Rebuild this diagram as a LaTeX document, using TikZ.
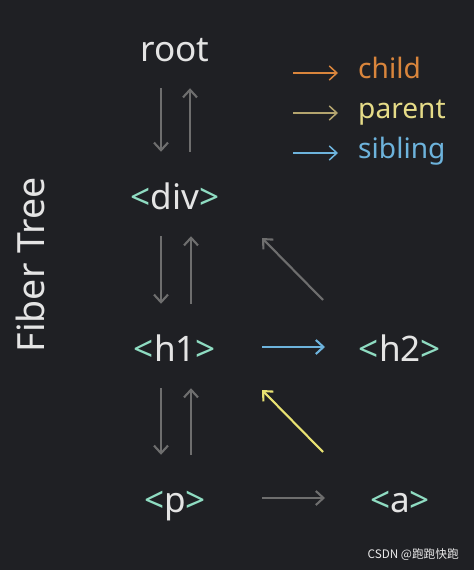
\documentclass[tikz,border=0pt]{standalone}
\usepackage{fontspec}
\setmainfont{Noto Sans}
\newfontfamily\cjk{Noto Sans CJK SC}
\usetikzlibrary{arrows.meta}

\definecolor{bgc}{HTML}{1F2024}
\definecolor{txtc}{HTML}{E4E4E4}
\definecolor{bracketc}{HTML}{8FDCC2}
\definecolor{greyc}{HTML}{6E6E6E}
\definecolor{childc}{HTML}{D9853C}
\definecolor{parentc}{HTML}{E6DC88}
\definecolor{parentarr}{HTML}{B3A46E}
\definecolor{siblingc}{HTML}{6DB3DC}
\definecolor{yellowc}{HTML}{E8E272}

\newcommand{\htmltag}[1]{{\color{bracketc}<}#1{\color{bracketc}>}}

\tikzset{
  fiber/.style={text=txtc, font=\fontsize{30}{34}\selectfont, inner sep=0pt, text height=0.75cm, text depth=0.25cm, minimum height=1.2cm},
  legend/.style={anchor=west, font=\fontsize{24}{28}\selectfont, inner sep=0pt, text height=0.5cm, text depth=0.15cm},
  link/.style={line width=1.8pt, -{Straight Barb[length=6.5pt,width=12pt]}},
  downlink/.style={link, greyc, shorten <=0.45cm, shorten >=0.87cm},
  uplink/.style={link, greyc, shorten <=0.87cm, shorten >=0.45cm},
}

\begin{document}
\begin{tikzpicture}[x=0.03cm,y=-0.03cm]
\fill[bgc] (0,0) rectangle (474,570);
\useasboundingbox (0,0) rectangle (474,570);
% tree
\node[fiber] (root) at (175,53) {root};
\node[fiber] (div) at (175,201) {\htmltag{div}};
\node[fiber] (h1) at (175,353) {\htmltag{h1}};
\node[fiber] (h2) at (400,353) {\htmltag{h2}};
\node[fiber] (p) at (175,504) {\htmltag{p}};
\node[fiber] (a) at (400,504) {\htmltag{a}};
\node[text=txtc, rotate=90, font=\fontsize{32}{36}\selectfont] (title) at (30,265) {Fiber Tree};
% child / return
\draw[downlink] ([xshift=-14*0.03cm]root.south) -- ([xshift=-14*0.03cm]div.north);
\draw[uplink] ([xshift=15*0.03cm]div.north) -- ([xshift=15*0.03cm]root.south);
\draw[downlink] ([xshift=-14*0.03cm]div.south) -- ([xshift=-14*0.03cm]h1.north);
\draw[uplink] ([xshift=16*0.03cm]h1.north) -- ([xshift=16*0.03cm]div.south);
\draw[downlink] ([xshift=-14*0.03cm]h1.south) -- ([xshift=-14*0.03cm]p.north);
\draw[uplink] ([xshift=16*0.03cm]p.north) -- ([xshift=16*0.03cm]h1.south);
% sibling
\draw[link, siblingc] ([xshift=87*0.03cm,yshift=6*0.03cm]h1.center) -- ([xshift=-75*0.03cm,yshift=6*0.03cm]h2.center);
\draw[link, greyc] ([xshift=87*0.03cm,yshift=6*0.03cm]p.center) -- ([xshift=-75*0.03cm,yshift=6*0.03cm]a.center);
% return from sibling
\draw[link, greyc] ([shift={(-77,-53)}]h2.center) -- ([shift={(87,37)}]div.center);
\draw[link, yellowc] ([shift={(-77,-52)}]a.center) -- ([shift={(87,37)}]h1.center);
% legend
\node[legend, text=childc] (lchild) at (358,73) {child};
\node[legend, text=parentc] (lparent) at (358,113) {parent};
\node[legend, text=siblingc] (lsibling) at (358,153) {sibling};
\draw[link, childc, line width=1.3pt] ([xshift=-65*0.03cm]lchild.west) -- ([xshift=-20*0.03cm]lchild.west);
\draw[link, parentarr, line width=1.3pt] ([xshift=-65*0.03cm]lparent.west) -- ([xshift=-20*0.03cm]lparent.west);
\draw[link, siblingc, line width=1.3pt] ([xshift=-65*0.03cm]lsibling.west) -- ([xshift=-20*0.03cm]lsibling.west);
% watermark
\node[text=txtc!80, font=\cjk\fontsize{10}{12}\selectfont, anchor=east] (mark) at (463,555) {CSDN @跑跑快跑};
\end{tikzpicture}
\end{document}
